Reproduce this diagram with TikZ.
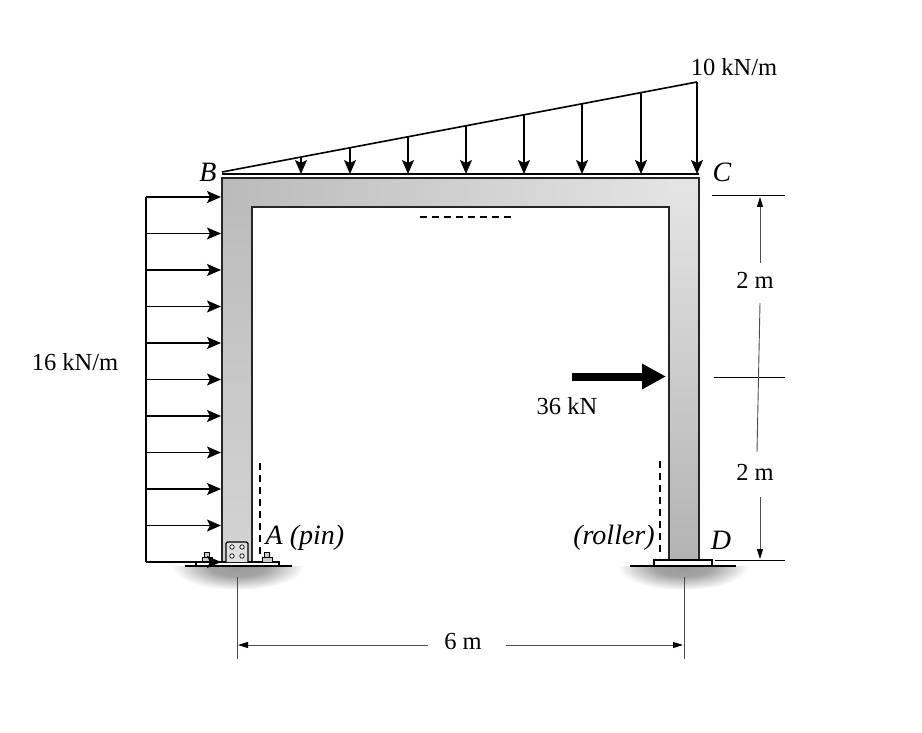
\documentclass[tikz,border=0pt]{standalone}
\usepackage{fontspec}
\setmainfont{Liberation Serif}
\usetikzlibrary{arrows.meta}

\pgfdeclareradialshading{groundshade}{\pgfpoint{0bp}{0bp}}{color(0bp)=(black!40); color(11bp)=(black!36); color(19bp)=(black!16); color(25bp)=(white); color(50bp)=(white)}

\tikzset{
  lab/.style={font=\fontsize{24.5}{28}\selectfont,inner sep=0pt},
  ital/.style={font=\fontsize{28}{32}\selectfont\itshape,inner sep=0pt},
  load/.style={line width=1.7pt,-{Stealth[length=14pt,width=12pt,inset=3pt]}},
  dim/.style={line width=0.9pt,draw=black!70,-{Stealth[length=10pt,width=6pt,inset=0pt,black]}},
  ext/.style={line width=0.9pt,draw=black!70},
  thin line/.style={line width=0.8pt},
  plate/.style={draw,line width=1.3pt,fill=white}
}

\begin{document}
\begin{tikzpicture}[x=1pt,y=-1pt,thick]
  \useasboundingbox (0,0) rectangle (922,733);

  % ground
  \begin{scope}
    \clip (150,566) rectangle (330,610);
    \shade[shading=groundshade] (238,566) ellipse [x radius=66,y radius=24];
  \end{scope}
  \begin{scope}
    \clip (590,566) rectangle (780,610);
    \shade[shading=groundshade] (683,566) ellipse [x radius=66,y radius=24];
  \end{scope}

  % frame
  \shade[top color=black!27,bottom color=black!17] (222,178) rectangle (252,562);
  \shade[left color=black!27,right color=black!10] (222,178) rectangle (699,207);
  \shade[top color=black!10,bottom color=black!30] (669,178) rectangle (699,560);
  \draw[line width=1.2pt,draw=black!85] (222,562) -- (222,178) -- (699,178) -- (699,560)
     (669,560) -- (669,207) -- (252,207) -- (252,562);

  % base plates
  \coordinate (g1) at (185,566);
  \coordinate (g2) at (292,566);
  \coordinate (g3) at (630,566);
  \coordinate (g4) at (736,566);
  \draw[plate] (196,562) rectangle (279,566);
  \draw[plate] (654,560) rectangle (712,566);
  \draw[line width=1.5pt] (g1) -- (g2);
  \draw[line width=1.5pt] (g3) -- (g4);

  % bolts
  \foreach \x in {207,267}{
    \draw[line width=0.9pt,fill=black!20] (\x-5,562) rectangle (\x+5,557);
    \draw[line width=0.9pt,fill=black!20] (\x-2.5,557) rectangle (\x+2.5,552);
  }
  \draw[line width=1.3pt,fill=black!12,rounded corners=1.5pt] (226,562) -- (226,542) -- (248,542) -- (248,562);
  \foreach \x in {232,242}{
    \foreach \y in {547,556}{
      \draw[line width=0.7pt,fill=white] (\x,\y) circle (2.2);
    }
  }

  % dashed references
  \draw[line width=1.5pt,dash pattern=on 7pt off 5pt] (420,217) -- (514,217);
  \draw[line width=1.5pt,dash pattern=on 7pt off 5pt] (260,463) -- (260,557);
  \draw[line width=1.5pt,dash pattern=on 7pt off 5pt] (660,461) -- (660,557);

  % left load
  \coordinate (h0) at (146,197);
  \coordinate (h10) at (146,562);
  \draw[line width=1.1pt] (h0) -- (h10);
  \foreach \i in {0,...,10}{
    \coordinate (p\i) at (146,197+36.5*\i);
    \coordinate (q\i) at (221,197+36.5*\i);
    \draw[load] (p\i) -- (q\i);
  }

  % top load
  \coordinate (t0) at (222,172);
  \coordinate (t1) at (697,82);
  \draw[line width=1.6pt] (t0) -- (t1);
  \draw[line width=2pt] (222,174) -- (699,174);
  \foreach \x in {301,350,408,466,524,582,641,697}{
    \coordinate (u\x) at (\x,{172-(\x-222)*0.18947});
    \coordinate (v\x) at (\x,174);
    \draw[load] (u\x) -- (v\x);
  }

  % point load
  \coordinate (f1) at (572,376.5);
  \coordinate (f2) at (666,376.5);
  \draw[line width=8pt,-{Triangle[length=24pt,width=24pt]}] (f1) -- (f2);

  % labels
  \node[lab] (qleft) at (75,362) {16 kN/m};
  \node[lab] (qtop) at (734,67) {10 kN/m};
  \node[lab] (force) at (567,406) {36 kN};
  \node[ital] (bb) at (208,172) {B};
  \node[ital] (cc) at (722,172) {C};
  \node[ital] (dd) at (721,540) {D};
  \node[ital] (aa) at (305,538) {A (pin)};
  \node[ital] (rr) at (614,538) {(roller)};
  \node[lab] (m1) at (755,280) {2 m};
  \node[lab] (m2) at (755,472) {2 m};
  \node[lab] (m3) at (463,642) {6 m};

  % dimensions
  \coordinate (a1) at (712,195);
  \coordinate (a2) at (785,195);
  \coordinate (b1) at (714,377);
  \coordinate (b2) at (785,377);
  \coordinate (c1) at (715,560);
  \coordinate (c2) at (785,560);
  \draw[thin line] (a1) -- (a2);
  \draw[thin line] (b1) -- (b2);
  \draw[thin line] (c1) -- (c2);

  \coordinate (d1) at (760,263);
  \coordinate (d2) at (760,197);
  \coordinate (d3) at (760,303);
  \coordinate (d4) at (757,452);
  \coordinate (d5) at (760,497);
  \coordinate (d6) at (760,559);
  \draw[dim] (d1) -- (d2);
  \draw[ext] (d3) -- (d4);
  \draw[dim] (d5) -- (d6);

  \coordinate (e1) at (237,577);
  \coordinate (e2) at (237,659);
  \coordinate (e3) at (684,577);
  \coordinate (e4) at (684,659);
  \draw[ext] (e1) -- (e2);
  \draw[ext] (e3) -- (e4);

  \coordinate (k1) at (428,645);
  \coordinate (k2) at (238,645);
  \coordinate (k3) at (506,645);
  \coordinate (k4) at (683,645);
  \draw[dim] (k1) -- (k2);
  \draw[dim] (k3) -- (k4);
\end{tikzpicture}
\end{document}
